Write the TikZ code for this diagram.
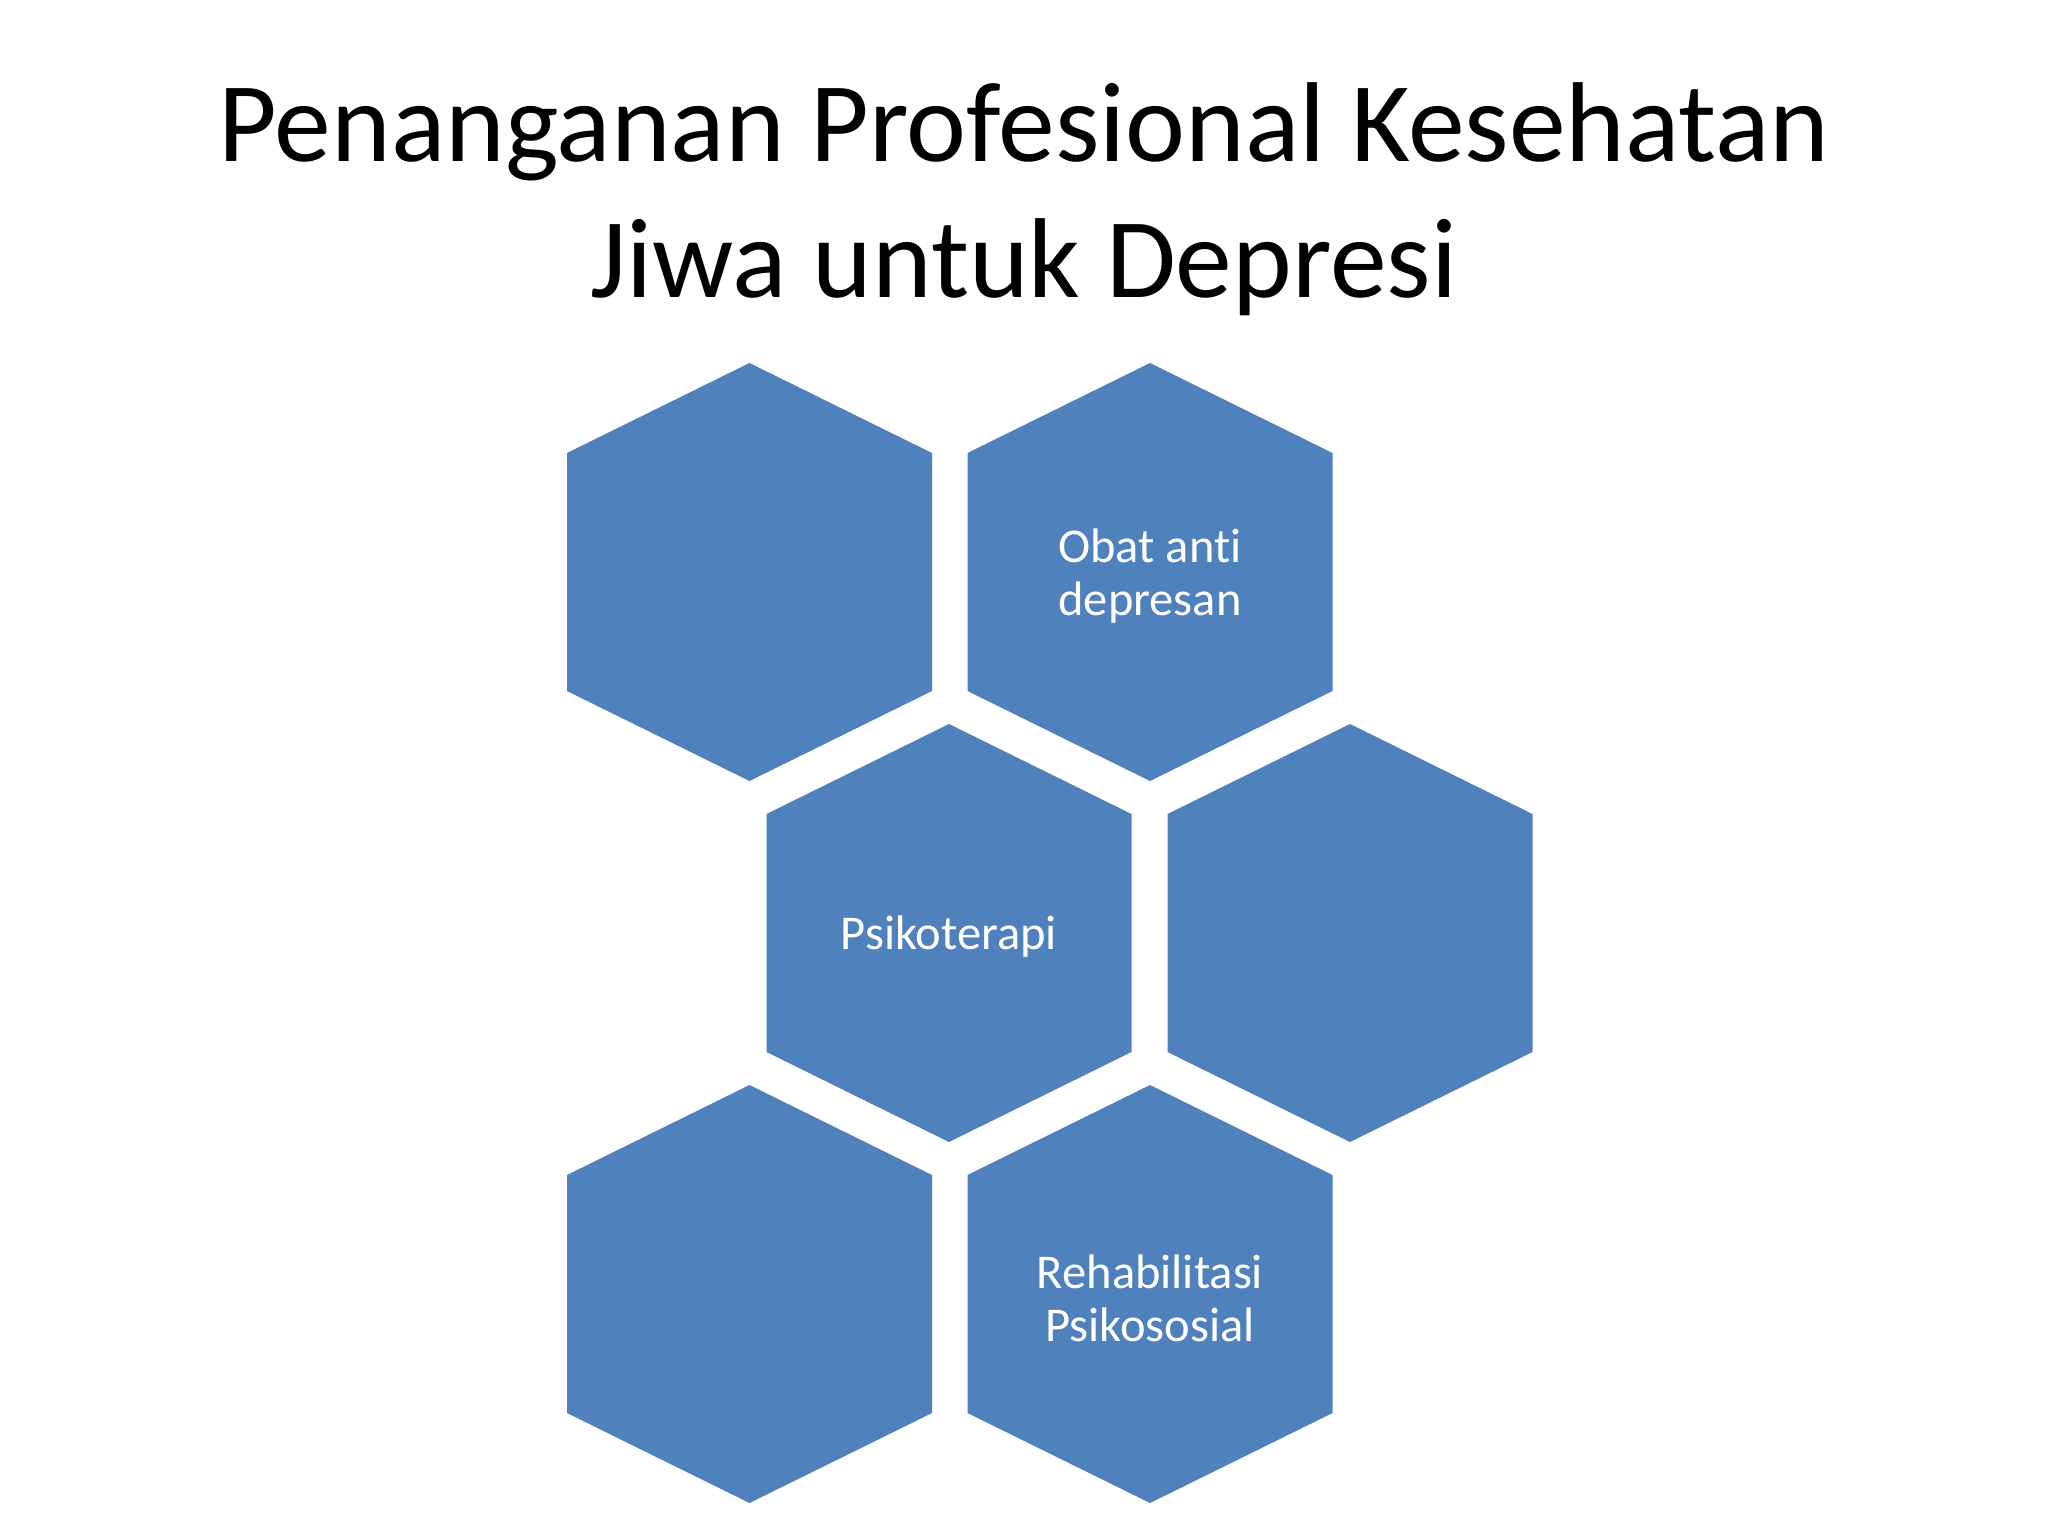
\documentclass[tikz,border=0pt]{standalone}
\usepackage{fontspec}
\setmainfont[Ligatures=NoCommon]{Carlito}
\definecolor{hexblue}{HTML}{4F81BD}
\tikzset{
  hex/.pic={\fill[hexblue] (0,-209) -- (182.5,-119) -- (182.5,119) -- (0,209) -- (-182.5,119) -- (-182.5,-119) -- cycle;},
  hextext/.style={text=white, align=center, inner sep=0pt, font=\fontsize{13.8}{15.1}\selectfont},
  titletext/.style={text=black, align=center, inner sep=0pt, font=\fontsize{32.3}{38.7}\selectfont}
}
\begin{document}
\begin{tikzpicture}[x=0.01cm,y=-0.01cm]
\useasboundingbox (0,0) rectangle (2048,1536);
\fill[white] (0,0) rectangle (2048,1536);
\node[titletext] (title) at (1024,199) {Penanganan Profesional Kesehatan\\Jiwa untuk Depresi};
\pic at (749.5,572) {hex};
\pic at (1150,572) {hex};
\pic at (949,933) {hex};
\pic at (1350,933) {hex};
\pic at (749.5,1294) {hex};
\pic at (1150,1294) {hex};
\node[hextext] (obat) at (1150,576) {Obat anti\\depresan};
\node[hextext] (psiko) at (949,937) {Psikoterapi};
\node[hextext] (rehab) at (1150,1298) {Rehabilitasi\\Psikososial};
\end{tikzpicture}
\end{document}
